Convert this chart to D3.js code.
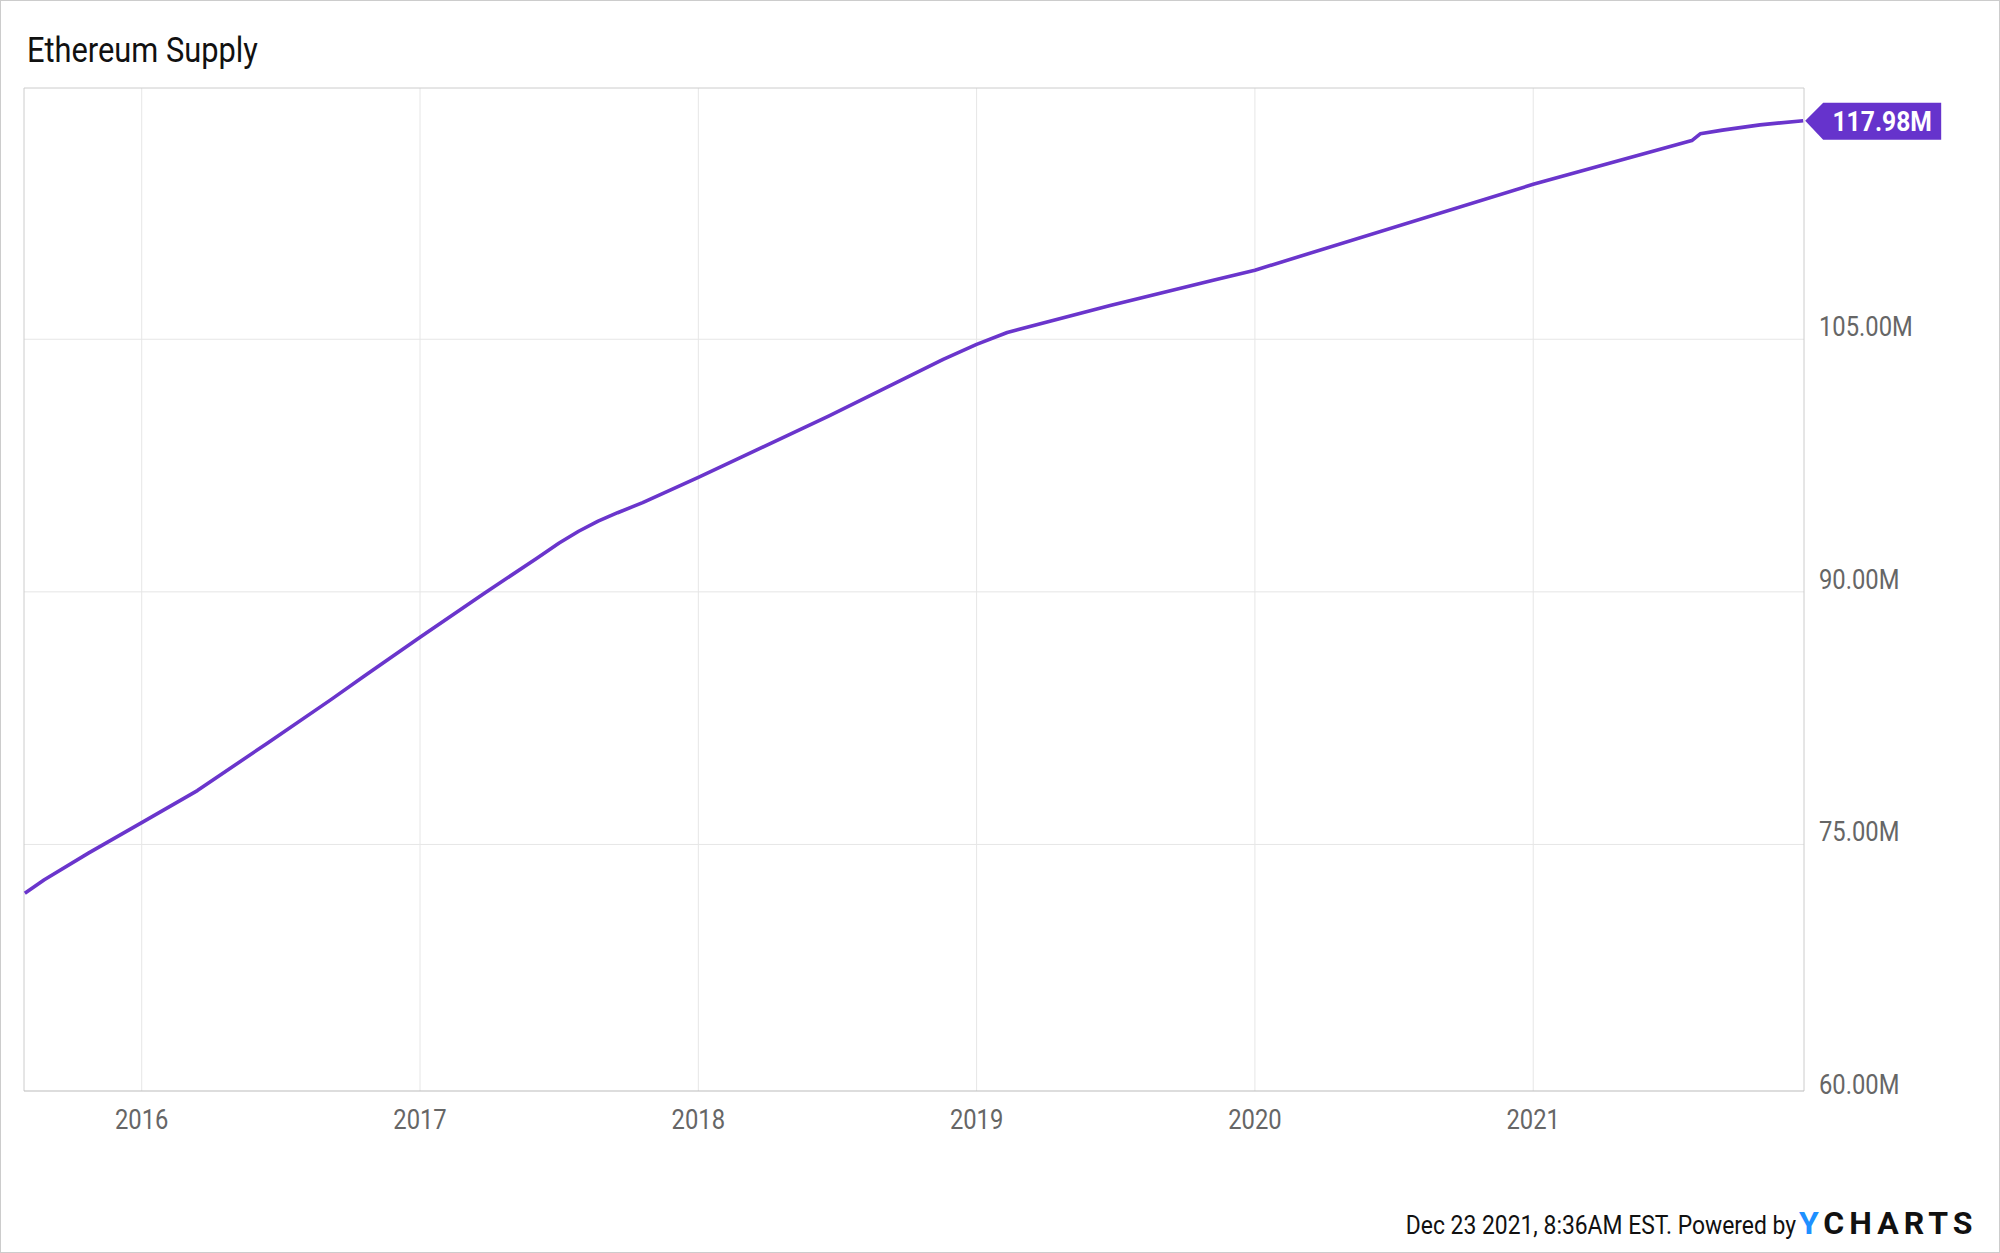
<!DOCTYPE html>
<html><head><meta charset="utf-8">
<script src="https://cdn.jsdelivr.net/npm/d3@7"></script>
<style>body{margin:0;background:#fff}text{font-family:Roboto,sans-serif}</style>
</head><body><div id="chart"></div>
<script>
// decimal years and supply (millions)
const years = [2015.58,2015.65,2015.81,2016.0,2016.2,2016.45,2016.68,2016.8,2017.0,2017.23,2017.42,2017.5,2017.57,2017.64,2017.71,2017.8,2018.0,2018.47,2018.88,2019.0,2019.11,2019.48,2019.85,2020.0,2021.0,2021.57,2021.6,2021.68,2021.815,2021.97];
const supply = [72.1,72.9,74.5,76.3,78.2,81.0,83.6,85.0,87.3,89.9,92.0,92.9,93.6,94.2,94.7,95.3,96.8,100.45,103.8,104.7,105.4,107.0,108.5,109.1,114.2,116.8,117.2,117.42,117.73,117.98];
const yTicks = [60,75,90,105];
const xTicks = [2016,2017,2018,2019,2020,2021];

const W = 2000, H = 1253;
const m = {left: 24, right: 1804, top: 88, bottom: 1091};
const svg = d3.select('#chart').append('svg').attr('width', W).attr('height', H);

svg.append('rect').attr('x', 0.5).attr('y', 0.5).attr('width', W - 1).attr('height', H - 1)
  .attr('fill', 'none').attr('stroke', '#ccc');

const x = d3.scaleLinear().domain([2015.577, 2021.973]).range([m.left, m.right]);
const y = d3.scaleLinear().domain([60.36, 119.92]).range([m.bottom, m.top]);

// grid
svg.append('g').selectAll('line').data(xTicks).join('line')
  .attr('x1', d => x(d)).attr('x2', d => x(d)).attr('y1', m.top).attr('y2', m.bottom)
  .attr('stroke', '#e6e6e6');
svg.append('g').selectAll('line').data(yTicks.slice(1)).join('line')
  .attr('x1', m.left).attr('x2', m.right).attr('y1', d => y(d)).attr('y2', d => y(d))
  .attr('stroke', '#e6e6e6');

// frame
svg.append('path')
  .attr('d', `M${m.left},${m.bottom}V${m.top}H${m.right}V${m.bottom}`)
  .attr('fill', 'none').attr('stroke', '#ccc');
svg.append('line').attr('x1', m.left).attr('x2', m.right).attr('y1', m.bottom).attr('y2', m.bottom)
  .attr('stroke', '#bbb');

// y labels (sit just above their gridline)
svg.append('g').selectAll('text').data(yTicks).join('text')
  .attr('transform', d => `translate(1819,${Math.min(y(d), m.bottom + 6) - 3}) scale(0.88,1)`)
  .attr('font-size', 27).attr('fill', '#666')
  .text(d => d.toFixed(2) + 'M');

// x labels
svg.append('g').selectAll('text').data(xTicks).join('text')
  .attr('transform', d => `translate(${x(d)},1129) scale(0.88,1)`)
  .attr('text-anchor', 'middle').attr('font-size', 27).attr('fill', '#666')
  .text(d => d);

// line
const pts = years.map((t, i) => [t, supply[i]]);
svg.append('path').datum(pts)
  .attr('d', d3.line().x(d => x(d[0])).y(d => y(d[1])))
  .attr('fill', 'none').attr('stroke', '#6a35cc').attr('stroke-width', 3.6)
  .attr('stroke-linejoin', 'round');

// end label
const last = pts[pts.length - 1];
const ly = y(last[1]), lx = x(last[0]) + 2;
svg.append('path')
  .attr('d', `M${lx},${ly}L${lx + 18},${ly - 18}H${lx + 136}V${ly + 19}H${lx + 18}Z`)
  .attr('fill', '#6633cc');
svg.append('text')
  .attr('transform', `translate(${lx + 77},${ly + 10}) scale(0.88,1)`)
  .attr('text-anchor', 'middle').attr('font-size', 28).attr('font-weight', 'bold').attr('fill', '#fff')
  .text(last[1].toFixed(2) + 'M');

// title
svg.append('text').attr('transform', 'translate(27,62) scale(0.88,1)')
  .attr('font-size', 35).attr('fill', '#111').text('Ethereum Supply');

// footer
svg.append('text').attr('transform', 'translate(1796,1234) scale(0.88,1)')
  .attr('text-anchor', 'end').attr('font-size', 26).attr('fill', '#111')
  .text('Dec 23 2021, 8:36AM EST. Powered by');
const brand = svg.append('text').attr('x', 1799).attr('y', 1234)
  .attr('font-size', 32).attr('font-weight', 'bold').attr('letter-spacing', 5);
brand.append('tspan').attr('fill', '#1e90ff').text('Y');
brand.append('tspan').attr('fill', '#111').text('CHARTS');
</script></body></html>
